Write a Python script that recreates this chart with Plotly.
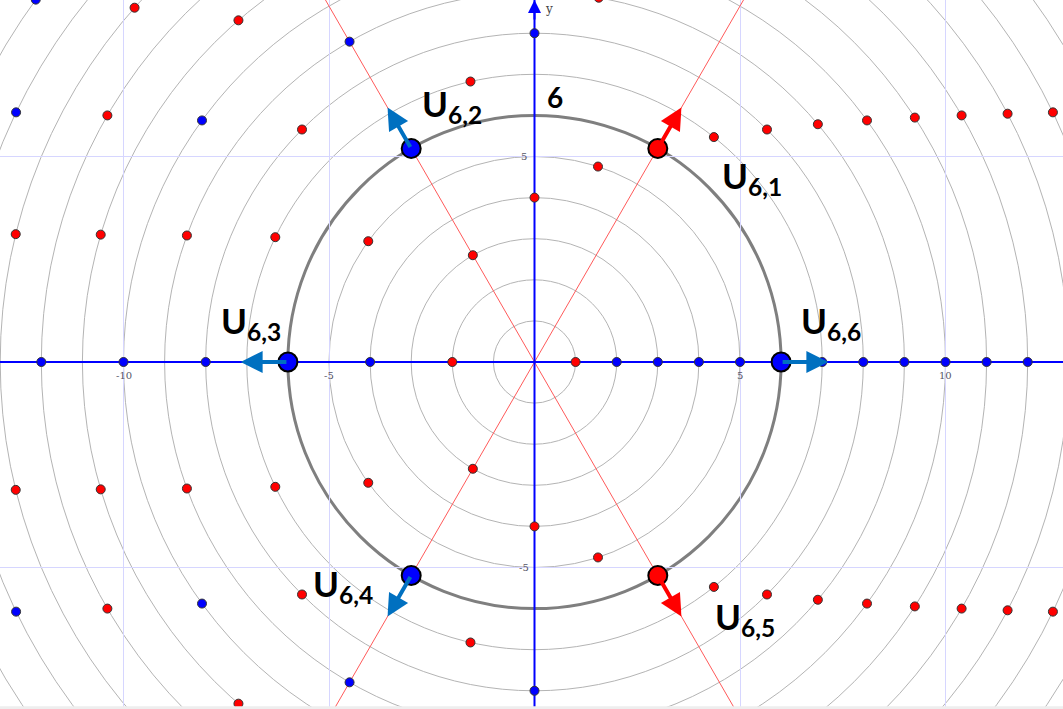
import math
import numpy as np
import plotly.graph_objects as go

# circles r = n, each carrying the n-th roots of unity scaled by n
radii = [1, 2, 3, 4, 5, 6, 7, 8, 9, 10, 11, 12, 13, 14, 15, 16]
highlight_n = 6
highlight_k = [1, 2, 3, 4, 5, 6]
highlight_labels = ["U<sub>6,1</sub>", "U<sub>6,2</sub>", "U<sub>6,3</sub>",
                    "U<sub>6,4</sub>", "U<sub>6,5</sub>", "U<sub>6,6</sub>"]
ray_angles = [60, 120]          # degrees, lines through the origin
x_ticks = [-10, -5, 5, 10]
y_ticks = [-5, 5]

RED = "#ff0000"
BLUE = "#0000ff"
ARROW_BLUE = "#0070c0"

# split points into primitive (gcd = 1) and the rest
red_x, red_y, blue_x, blue_y = [], [], [], []
for n in radii:
    for k in range(1, n + 1):
        t = 2 * np.pi * k / n
        if math.gcd(k, n) == 1:
            red_x.append(n * np.cos(t)); red_y.append(n * np.sin(t))
        else:
            blue_x.append(n * np.cos(t)); blue_y.append(n * np.sin(t))

fig = go.Figure()

# red rays
for a in ray_angles:
    t = np.radians(a)
    fig.add_trace(go.Scatter(x=[-20 * np.cos(t), 20 * np.cos(t)], y=[-20 * np.sin(t), 20 * np.sin(t)],
                             mode="lines", line=dict(color="#ff5a5a", width=1), hoverinfo="skip"))

# blue axes
fig.add_trace(go.Scatter(x=[-20, 20], y=[0, 0], mode="lines", line=dict(color=BLUE, width=2), hoverinfo="skip"))
fig.add_trace(go.Scatter(x=[0, 0], y=[-20, 20], mode="lines", line=dict(color=BLUE, width=2), hoverinfo="skip"))

fig.add_trace(go.Scatter(x=red_x, y=red_y, mode="markers",
                         marker=dict(size=9, color=RED, line=dict(color="#333333", width=1))))
fig.add_trace(go.Scatter(x=blue_x, y=blue_y, mode="markers",
                         marker=dict(size=9, color=BLUE, line=dict(color="#333333", width=1))))

# circles
shapes = []
for r in radii:
    big = r == highlight_n
    shapes.append(dict(type="circle", xref="x", yref="y", x0=-r, y0=-r, x1=r, y1=r, layer="below",
                       line=dict(color="#7f7f7f" if big else "#b4b4b4", width=3 if big else 1)))
shapes.append(dict(type="rect", xref="paper", yref="paper", x0=0, x1=1, y0=0, y1=0.004,
                   fillcolor="#eeeeee", line=dict(width=0), layer="above"))

# highlighted points, arrows, labels
label_pos = [(5.29, 4.50), (-2.01, 6.23), (-6.90, 0.95), (-4.66, -5.45), (5.12, -6.25), (7.21, 0.95)]
annotations = []
hx, hy, hc = [], [], []
for k, lab, (lx, ly) in zip(highlight_k, highlight_labels, label_pos):
    t = 2 * np.pi * k / highlight_n
    prim = math.gcd(k, highlight_n) == 1
    px, py = highlight_n * np.cos(t), highlight_n * np.sin(t)
    hx.append(px); hy.append(py); hc.append(RED if prim else BLUE)
    tip = highlight_n + 1.15
    annotations.append(dict(x=tip * np.cos(t), y=tip * np.sin(t), ax=px, ay=py, xref="x", yref="y",
                            axref="x", ayref="y", text="", showarrow=True, arrowhead=2, arrowsize=1.1,
                            arrowwidth=4, standoff=0, startstandoff=0,
                            arrowcolor=RED if prim else ARROW_BLUE))
    annotations.append(dict(x=lx, y=ly, xref="x", yref="y", text=lab, showarrow=False,
                            font=dict(family="Lato", size=35, color="black", weight="bold")))

fig.add_trace(go.Scatter(x=hx, y=hy, mode="markers",
                         marker=dict(size=19, color=hc, line=dict(color="black", width=2))))

annotations.append(dict(x=0.5, y=6.45, xref="x", yref="y", text="6", showarrow=False,
                        font=dict(family="Lato", size=28, color="black", weight="bold")))

for v in x_ticks:
    annotations.append(dict(x=v, y=0, xref="x", yref="y", text=str(v), showarrow=False, yshift=-13,
                            font=dict(family="DejaVu Serif", size=10, color="#555566")))
for v in y_ticks:
    annotations.append(dict(x=0, y=v, xref="x", yref="y", text=str(v), showarrow=False, xshift=-11,
                            font=dict(family="DejaVu Serif", size=10, color="#555566")))
annotations.append(dict(x=0, y=8.808, xref="x", yref="y", text="y", showarrow=False, xshift=14, yshift=-9,
                        font=dict(family="DejaVu Serif", size=12, color="#444444")))
annotations.append(dict(x=0, y=8.808, ax=0, ay=8.3, xref="x", yref="y", axref="x", ayref="y", text="",
                        showarrow=True, arrowhead=2, arrowsize=1.3, arrowwidth=2, standoff=0,
                        arrowcolor=BLUE))

fig.update_layout(
    width=1063, height=709, autosize=False,
    margin=dict(l=0, r=0, t=0, b=0),
    plot_bgcolor="white", paper_bgcolor="white",
    showlegend=False,
    shapes=shapes, annotations=annotations,
    xaxis=dict(range=[-13.005, 12.859], tickvals=x_ticks, showticklabels=False, showgrid=True,
               gridcolor="#d6d6ff", gridwidth=1, zeroline=False, showline=False, fixedrange=True),
    yaxis=dict(range=[-8.443, 8.808], tickvals=y_ticks, showticklabels=False, showgrid=True,
               gridcolor="#d6d6ff", gridwidth=1, zeroline=False, showline=False, fixedrange=True),
)

fig.write_html("out.html", config={"displayModeBar": False},
               post_script="document.body.style.margin='0';document.body.style.overflow='hidden';")
